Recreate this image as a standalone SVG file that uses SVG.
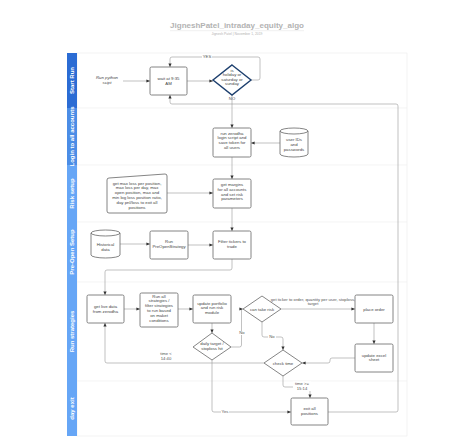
<svg xmlns="http://www.w3.org/2000/svg" width="474" height="438" viewBox="0 0 474 438">
<defs>
<marker id="ah" markerWidth="4" markerHeight="4" refX="3.6" refY="2" orient="auto" markerUnits="userSpaceOnUse">
<path d="M0,0.4 L3.6,2 L0,3.6 Z" fill="#333"/>
</marker>
</defs>
<style>
.t{font-family:"Liberation Sans",Arial,sans-serif;font-size:4.3px;fill:#444;text-anchor:middle}
.lbl{font-family:"Liberation Sans",Arial,sans-serif;font-size:4.2px;fill:#555;text-anchor:middle}
.lane{font-family:"Liberation Sans",Arial,sans-serif;font-size:6px;font-weight:bold;fill:#fff;text-anchor:middle}
.box{fill:#fff;stroke:#666;stroke-width:0.8}
.dia{fill:#fff;stroke:#666;stroke-width:0.8}
.c{fill:none;stroke:#999;stroke-width:0.6;marker-end:url(#ah)}
.cn{fill:none;stroke:#999;stroke-width:0.6}
.sep{stroke:#ececec;stroke-width:0.6}
.bg{fill:#fff}
</style>
<rect width="474" height="438" fill="#fff"/>
<!-- title -->
<text x="237" y="28" font-family="Liberation Sans,Arial,sans-serif" font-size="8" font-weight="bold" fill="#b3b3b3" text-anchor="middle">JigneshPatel_intraday_equity_algo</text>
<line x1="170" y1="30.7" x2="304" y2="30.7" stroke="#e2e2e2" stroke-width="0.5"/>
<text x="237" y="35" font-family="Liberation Sans,Arial,sans-serif" font-size="3.4" fill="#b3b3b3" text-anchor="middle">Jignesh Patel  |  November 1, 2019</text>
<!-- lanes -->
<g id="lanes">
<rect x="77" y="53" width="330" height="383" fill="none" stroke="#ececec" stroke-width="0.6"/>
<line class="sep" x1="77" y1="108" x2="407" y2="108"/>
<line class="sep" x1="77" y1="165" x2="407" y2="165"/>
<line class="sep" x1="77" y1="222" x2="407" y2="222"/>
<line class="sep" x1="77" y1="282" x2="407" y2="282"/>
<line class="sep" x1="77" y1="381" x2="407" y2="381"/>
<rect x="67" y="53" width="10" height="55" fill="#2b6cd4"/>
<rect x="67" y="108" width="10" height="57" fill="#4b8de6"/>
<rect x="67" y="165" width="10" height="57" fill="#66a6f6"/>
<rect x="67" y="222" width="10" height="60" fill="#66a6f6"/>
<rect x="67" y="282" width="10" height="99" fill="#66a6f6"/>
<rect x="67" y="381" width="10" height="55" fill="#66a6f6"/>
<text class="lane" transform="translate(74.2,80.5) rotate(-90)">Start Run</text>
<text class="lane" transform="translate(74.2,136.5) rotate(-90)">Login to all accounts</text>
<text class="lane" transform="translate(74.2,193.5) rotate(-90)">Risk setup</text>
<text class="lane" transform="translate(74.2,252) rotate(-90)">Pre-Open Setup</text>
<text class="lane" transform="translate(74.2,331.5) rotate(-90)">Run strategies</text>
<text class="lane" transform="translate(74.2,408.5) rotate(-90)">day exit</text>
</g>
<!-- connectors -->
<g id="connectors">
<path class="c" d="M123,81 H150"/>
<path class="c" d="M187,81 H213"/>
<path class="c" d="M251,80 H258 Q260,80 260,78 V59 Q260,57 258,57 H172 Q170,57 170,59 V67"/>
<path class="c" d="M232,95 V128"/>
<path class="c" d="M328,412 H396 Q398,412 398,410 V106 Q398,104 396,104 H172 Q170,104 170,102 V95"/>
<path class="c" d="M280,143 H251"/>
<path class="c" d="M232,157 V179"/>
<path class="c" d="M167,193 H213"/>
<path class="c" d="M232,208 V231"/>
<path class="c" d="M120,244 H150"/>
<path class="c" d="M188,245 H213"/>
<path class="c" d="M232,259 V268 Q232,270 230,270 H107 Q105,270 105,272 V295"/>
<path class="c" d="M124,309 H140"/>
<path class="c" d="M178,309 H193"/>
<path class="c" d="M212,323 V333"/>
<path class="c" d="M231,347 H239.5 Q241.5,347 241.5,345 V309 H243"/>
<path class="c" d="M281,309 H355"/>
<path class="c" d="M374,323 V344"/>
<path class="c" d="M355,358 H332 Q330,358 330,360 V361 Q330,363 328,363 H302"/>
<path class="c" d="M262,322 V335 Q262,337 264,337 H281 Q283,337 283,339 V350"/>
<path class="c" d="M264,363 H107 Q105,363 105,361 V323"/>
<path class="c" d="M212,360 V410 Q212,412 214,412 H291"/>
<path class="c" d="M283,376 V385 Q283,387 285,387 H308 Q310,387 310,389 V398"/>
<!-- labels -->
<rect class="bg" x="202" y="55" width="10" height="4"/>
<text class="lbl" x="207" y="58.4">YES</text>
<text class="lbl" x="232" y="100">NO</text>
<rect class="bg" x="238" y="331" width="8" height="4"/>
<text class="lbl" x="242" y="334.4">No</text>
<rect class="bg" x="268" y="335" width="8" height="4"/>
<text class="lbl" x="272" y="338.4">No</text>
<rect class="bg" x="272" y="297" width="82" height="9"/>
<text class="lbl" x="313" y="300.8">get ticker to order, quantity per user, stoploss,</text>
<text class="lbl" x="313" y="305.4">target</text>
<text class="lbl" x="166" y="354.5">time &lt;</text>
<text class="lbl" x="166" y="359.5">14:40</text>
<rect class="bg" x="293" y="381.5" width="18" height="9.5"/>
<text class="lbl" x="302" y="385">time &gt;=</text>
<text class="lbl" x="302" y="390">15:14</text>
<rect class="bg" x="221" y="410" width="8" height="4"/>
<text class="lbl" x="225" y="413.4">Yes</text>
</g>
<!-- nodes -->
<g id="run-python">
<text class="t" x="107" y="78.5" font-style="italic">Run python</text>
<text class="t" x="107" y="83.5" font-style="italic">scipt</text>
</g>
<g id="wait">
<rect class="box" x="150" y="67" width="37" height="28" rx="1.5"/>
<text class="t" x="168.5" y="80">wait at 9:35</text>
<text class="t" x="168.5" y="85">AM</text>
</g>
<g id="holiday">
<polygon points="232,65 251,80 232,95 213,80" fill="#fff" stroke="#1d3f6e" stroke-width="1.4"/>
<text class="t" x="232" y="71.5">is</text>
<text class="t" x="232" y="76">holiday or</text>
<text class="t" x="232" y="80.5">saturday or</text>
<text class="t" x="232" y="85">sunday</text>
</g>
<g id="login">
<rect class="box" x="213" y="128" width="38" height="29" rx="1.5"/>
<text class="t" x="232" y="134.5">run zerodha</text>
<text class="t" x="232" y="139.3">login script and</text>
<text class="t" x="232" y="144.1">save token for</text>
<text class="t" x="232" y="148.9">all users</text>
</g>
<g id="userids">
<path class="box" d="M280,131 A14,3 0 0 1 308,131 V154 A14,3 0 0 1 280,154 Z"/>
<path d="M280,131 A14,3 0 0 0 308,131" fill="none" stroke="#666" stroke-width="0.8"/>
<text class="t" x="294" y="141">user IDs</text>
<text class="t" x="294" y="146">and</text>
<text class="t" x="294" y="151">passwords</text>
</g>
<g id="risk-input">
<path class="box" d="M109,178 L165,174 Q167,174 167,176 V211 Q167,213 165,213 H109 Q107,213 107,211 V180 Q107,178 109,178 Z"/>
<text class="t" x="137" y="184.5">get max loss per position,</text>
<text class="t" x="137" y="189.3">max loss per day, max</text>
<text class="t" x="137" y="194.1">open position, max and</text>
<text class="t" x="137" y="198.9">min log loss position ratio,</text>
<text class="t" x="137" y="203.7">day pnl/loss to exit all</text>
<text class="t" x="137" y="208.5">positions</text>
</g>
<g id="margins">
<rect class="box" x="213" y="179" width="38" height="29" rx="1.5"/>
<text class="t" x="232" y="186">get margins</text>
<text class="t" x="232" y="190.8">for all accounts</text>
<text class="t" x="232" y="195.6">and set risk</text>
<text class="t" x="232" y="200.4">parameters</text>
</g>
<g id="historical">
<path class="box" d="M91,233 A14.5,3 0 0 1 120,233 V255 A14.5,3 0 0 1 91,255 Z"/>
<path d="M91,233 A14.5,3 0 0 0 120,233" fill="none" stroke="#666" stroke-width="0.8"/>
<text class="t" x="105.5" y="246">Historical</text>
<text class="t" x="105.5" y="251">data</text>
</g>
<g id="preopen">
<rect class="box" x="150" y="231" width="38" height="28" rx="1.5"/>
<text class="t" x="169" y="243">Run</text>
<text class="t" x="169" y="247.8">PreOpenStrategy</text>
</g>
<g id="filter">
<rect class="box" x="213" y="231" width="38" height="28" rx="1.5"/>
<text class="t" x="232" y="243">Filter tickers to</text>
<text class="t" x="232" y="247.8">trade</text>
</g>
<g id="livedata">
<rect class="box" x="87" y="295" width="37" height="28" rx="1.5"/>
<text class="t" x="105.5" y="308.3">get live data</text>
<text class="t" x="105.5" y="313.1">from zerodha</text>
</g>
<g id="runall">
<rect class="box" x="140" y="293" width="38" height="34" rx="1.5"/>
<text class="t" x="159" y="297.5">Run all</text>
<text class="t" x="159" y="302.3">strategies /</text>
<text class="t" x="159" y="307.1">filter strategies</text>
<text class="t" x="159" y="311.9">to run based</text>
<text class="t" x="159" y="316.7">on maket</text>
<text class="t" x="159" y="321.5">conditions</text>
</g>
<g id="update-portfolio">
<rect class="box" x="193" y="295" width="38" height="28" rx="1.5"/>
<text class="t" x="212" y="304.5">update portfolio</text>
<text class="t" x="212" y="309.3">and run risk</text>
<text class="t" x="212" y="314.1">module</text>
</g>
<g id="daily-target">
<polygon class="dia" points="212,333 231,347 212,360 193,347"/>
<text class="t" x="212" y="345.3">daily target /</text>
<text class="t" x="212" y="350.1">stoploss hit</text>
</g>
<g id="can-take-risk">
<polygon class="dia" points="262,296 281,309 262,322 243,309"/>
<text class="t" x="262" y="310.5">can take risk</text>
</g>
<g id="place-order">
<rect class="box" x="355" y="295" width="38" height="28" rx="1.5"/>
<text class="t" x="374" y="310.5">place order</text>
</g>
<g id="update-excel">
<rect class="box" x="355" y="344" width="38" height="28" rx="1.5"/>
<text class="t" x="374" y="356.5">update excel</text>
<text class="t" x="374" y="361.3">sheet</text>
</g>
<g id="check-time">
<polygon class="dia" points="283,350 302,363 283,376 264,363"/>
<text class="t" x="283" y="364.5">check time</text>
</g>
<g id="exit-all">
<rect class="box" x="291" y="398" width="37" height="27" rx="1.5"/>
<text class="t" x="309.5" y="410">exit all</text>
<text class="t" x="309.5" y="414.8">positions</text>
</g>
</svg>
